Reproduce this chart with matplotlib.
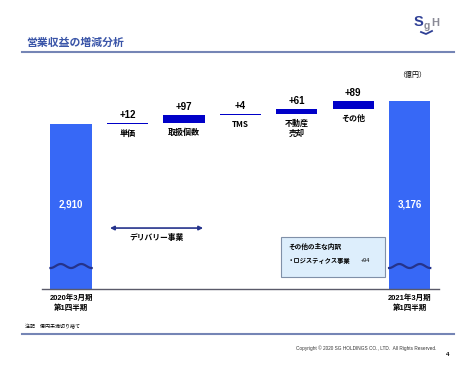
import numpy as np
import matplotlib
matplotlib.use('Agg')
import matplotlib.pyplot as plt
from matplotlib.patches import Rectangle
from matplotlib.lines import Line2D

JP = ['Noto Sans CJK JP', 'DejaVu Sans']
NUM = ['Liberation Sans', 'Noto Sans CJK JP']

# data
categories = ['2020年3月期\n第1四半期', '単価', '取扱個数', 'TMS', '不動産\n売却', 'その他', '2021年3月期\n第1四半期']
start_value = 2910
end_value = 3176
deltas = [12, 97, 4, 61, 89]
breakdown_item = '・ロジスティクス事業'
breakdown_value = '+94'

TOTAL_COLOR = '#3768F6'
DELTA_COLOR = '#0000C8'
NAVY = '#25338C'
TITLE_COLOR = '#3A55A8'
RULE_COLOR = '#7585B5'

W, H = 474, 366
fig = plt.figure(figsize=(W / 100, H / 100), dpi=100)

def px(x, y):
    return x / W, 1 - y / H

ax = fig.add_axes([42 / W, 77 / H, 397 / W, 209 / H])
ax.set_xlim(-0.515, 6.52)
ax.set_ylim(1000, 3420)
for s in ['top', 'left', 'right']:
    ax.spines[s].set_visible(False)
ax.spines['bottom'].set_color('#5a5a6a')
ax.spines['bottom'].set_linewidth(1.0)
ax.set_xticks([])
ax.set_yticks([])

bw = 0.73
unit_px = 11.57  # value units per pixel

# total bars
n = len(categories)
ax.bar(0, start_value, width=bw, color=TOTAL_COLOR, zorder=2)
ax.bar(n - 1, end_value, width=bw, color=TOTAL_COLOR, zorder=2)

# increments
base = start_value
for i, d in enumerate(deltas):
    x = i + 1
    ax.bar(x, d, bottom=base, width=bw, color=DELTA_COLOR, zorder=2, linewidth=0)
    top = base + d
    ax.text(x, top + 8 * unit_px, '+{}'.format(d), ha='center', va='center',
            fontsize=7, fontweight='bold', family=NUM, color='black')
    ax.text(x, base - 5 * unit_px, categories[x], ha='center', va='top',
            fontsize=5.8, fontweight='bold', family=JP, linespacing=1.05)
    base = top

# totals labels
for x, v in [(0, start_value), (n - 1, end_value)]:
    ax.text(x, 0.402, '{:,}'.format(v), transform=ax.get_xaxis_transform(),
            ha='center', va='center', color='white', fontsize=7, fontweight='bold', family=NUM)
    ax.text(x, -0.028, categories[x], transform=ax.get_xaxis_transform(),
            ha='center', va='top', fontsize=5.4, fontweight='bold', family=NUM, linespacing=1.3)
    # break wave
    xs = np.linspace(x - bw / 2, x + bw / 2, 100)
    ys = 1000 + 23 * unit_px + 2 * unit_px * np.sin((xs - (x - bw / 2)) / bw * 2 * np.pi * 2.0 - np.pi / 2)
    ax.plot(xs, ys, color=NAVY, linewidth=1.6, zorder=3)

# delivery arrow
ay = 1000 + (289 - 228) * unit_px
ax.annotate('', xy=(2.34, ay), xytext=(0.69, ay),
            arrowprops=dict(arrowstyle='<|-|>', color=NAVY, lw=1.2, mutation_scale=6,
                            shrinkA=0, shrinkB=0))
ax.text(1.52, 1000 + (289 - 237) * unit_px, 'デリバリー事業', ha='center', va='center',
        fontsize=5.6, fontweight='bold', family=JP)

# unit
fig.text(*px(412, 75), '（億円）', ha='center', va='center', fontsize=5, family=JP)

# title & rules
fig.text(*px(26, 43), '営業収益の増減分析', ha='left', va='center', fontsize=7.8,
         fontweight='bold', color=TITLE_COLOR, family=JP)
fig.add_artist(Line2D([22 / W, 454 / W], [1 - 52 / H, 1 - 52 / H], color=RULE_COLOR, lw=1.5))
fig.add_artist(Line2D([22 / W, 454 / W], [1 - 334 / H, 1 - 334 / H], color=RULE_COLOR, lw=1.5))

# logo
fig.text(*px(418.5, 22.5), 'S', ha='center', va='center', fontsize=10.5, fontweight='bold',
         color='#2E3F95', family=NUM)
fig.text(*px(427.3, 26), 'g', ha='center', va='center', fontsize=7.5, fontweight='bold',
         color='#8a8a96', family=NUM)
fig.text(*px(434.8, 23.5), 'H', ha='center', va='center', fontsize=8, fontweight='bold',
         color='#8a8a96', family=NUM)
fig.add_artist(Line2D([421 / W, 426 / W, 432 / W], [1 - 32 / H, 1 - 34 / H, 1 - 31 / H],
                      color='#2E3F95', lw=1.3))

# breakdown box
x0, y0 = px(281, 277)
x1, y1 = px(385, 237)
fig.add_artist(Rectangle((x0, y0), x1 - x0, y1 - y0, transform=fig.transFigure,
                         facecolor='#DDEEFC', edgecolor='#8090A8', lw=0.8))
fig.text(*px(288, 246), 'その他の主な内訳', ha='left', va='center', fontsize=4.8,
         fontweight='bold', family=JP)
fig.text(*px(288, 260), breakdown_item, ha='left', va='center', fontsize=4.5,
         fontweight='bold', family=JP)
fig.text(*px(361, 260), breakdown_value, ha='left', va='center', fontsize=4, family=NUM)

# footer
fig.text(*px(25, 327), '注記　億円未満切り捨て', ha='left', va='center', fontsize=3.6, family=JP)
fig.text(*px(437, 348), 'Copyright © 2020 SG HOLDINGS CO., LTD.  All Rights Reserved.',
         ha='right', va='center', fontsize=3.4, family=NUM, color='#333333')
fig.text(*px(448, 355), '4', ha='center', va='center', fontsize=4.5, fontweight='bold', family=NUM)

plt.savefig('out.png', dpi=100)
